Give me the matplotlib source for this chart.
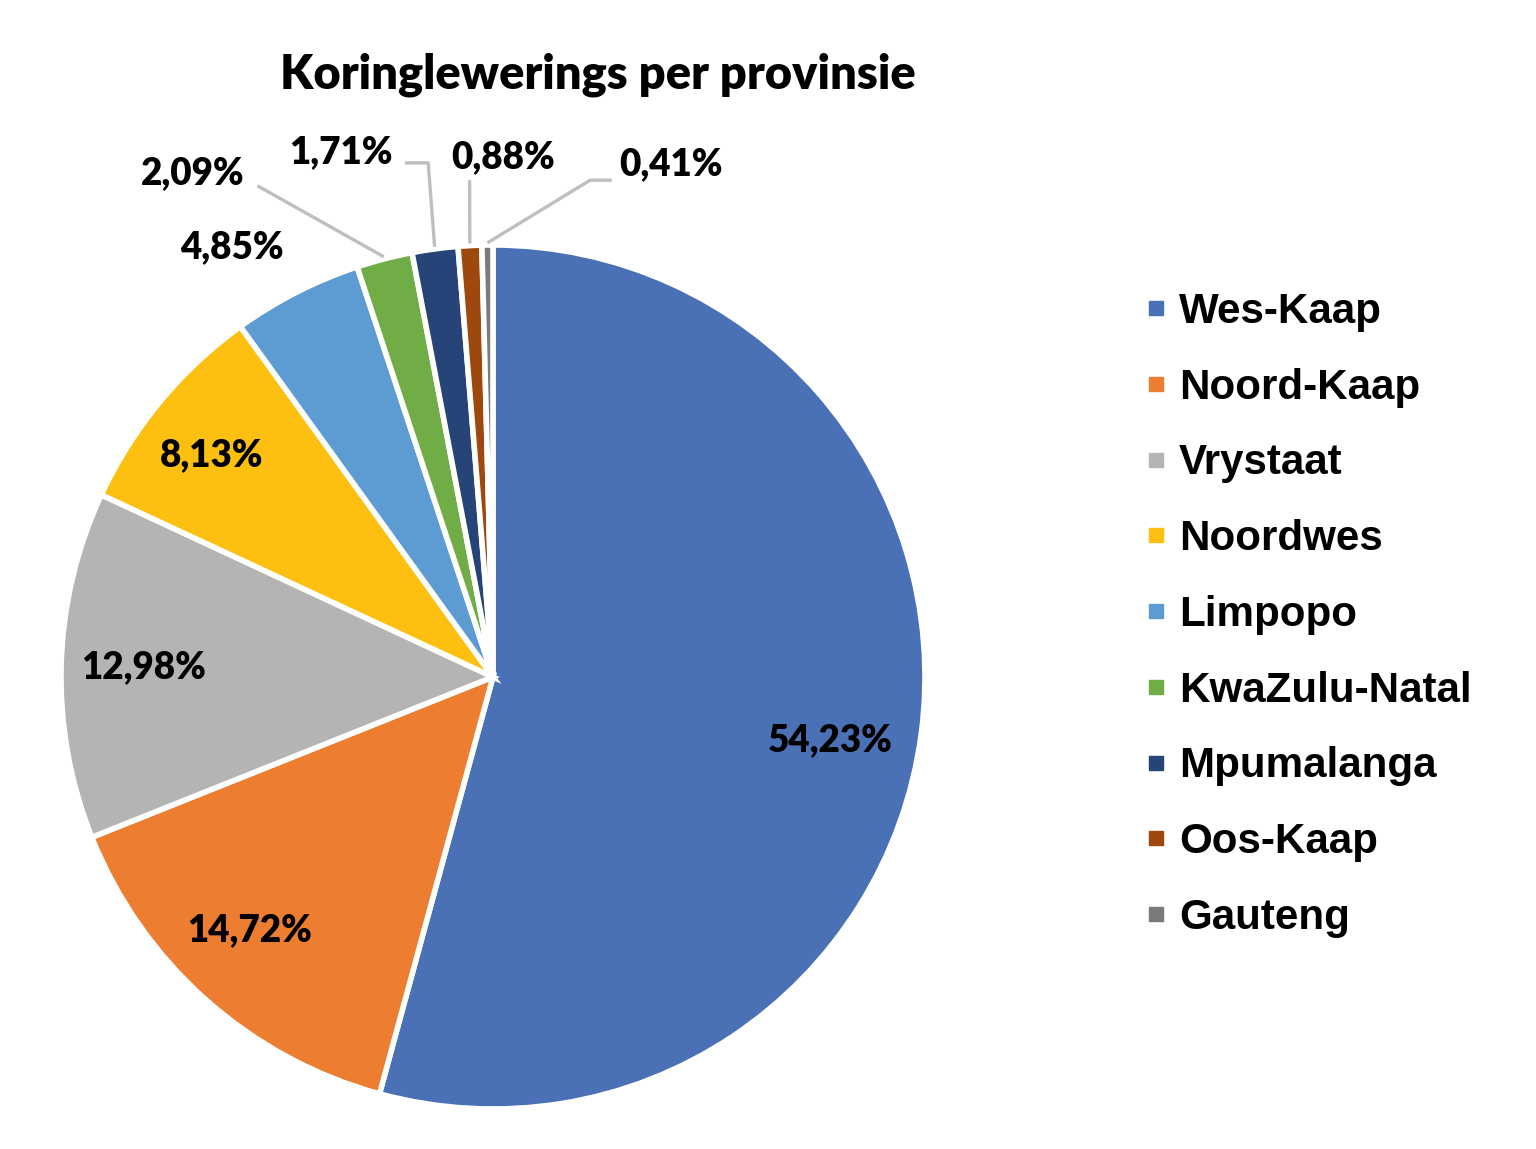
import numpy as np
import matplotlib
matplotlib.use("Agg")
import matplotlib.pyplot as plt

title = "Koringlewerings per provinsie"
provinces = ["Wes-Kaap", "Noord-Kaap", "Vrystaat", "Noordwes", "Limpopo",
             "KwaZulu-Natal", "Mpumalanga", "Oos-Kaap", "Gauteng"]
shares = [54.23, 14.72, 12.98, 8.13, 4.85, 2.09, 1.71, 0.88, 0.41]
colors = ["#4A71B6", "#EC7D31", "#B4B4B4", "#FDBF10", "#5D9BD3",
          "#70AD47", "#264478", "#9E480E", "#7A7A7A"]

def fmt(v):
    return f"{v:.2f}".replace(".", ",") + "%"

fig = plt.figure(figsize=(15.36, 11.49), dpi=100)
ax = fig.add_axes([0.0397, 0.0348, 0.5625, 0.752])
wedges, _ = ax.pie(shares, colors=colors, startangle=90, counterclock=False,
                   wedgeprops=dict(edgecolor="white", linewidth=4), radius=1.0)
ax.set_xlim(-1, 1)
ax.set_ylim(-1, 1)
ax.set_aspect("equal")
ax.axis("off")

lab_font = dict(family="Lato", fontweight="heavy", fontsize=26.5, color="black")

cum = np.cumsum([0] + shares)
mids = [90 - 3.6 * (cum[i] + shares[i] / 2) for i in range(len(shares))]

# (radius, angle offset in degrees) for labels inside the slices
inside_place = [(0.795, -3.0), (0.812, -2.1), (0.81, 0.0), (0.83, 1.3)]
for i, (r, da) in enumerate(inside_place):
    a = np.deg2rad(mids[i] + da)
    ax.text(r * np.cos(a), r * np.sin(a), fmt(shares[i]), ha="center", va="center", **lab_font)

ax.text(-0.604, 0.995, fmt(shares[4]), ha="center", va="center", **lab_font)

lc = "#BFBFBF"
outside = {
    5: ((-0.694, 1.167), [(-0.545, 1.137), (-0.545, 1.137)]),
    6: ((-0.352, 1.215), [(-0.150, 1.190), (-0.204, 1.190)]),
    7: ((0.023, 1.203), [(-0.054, 1.150), (-0.054, 1.150)]),
    8: ((0.412, 1.187), [(0.225, 1.150), (0.275, 1.150)]),
}
for i, ((tx, ty), pts) in outside.items():
    a = np.deg2rad(mids[i])
    xs = [np.cos(a) * 1.005] + [p[0] for p in pts]
    ys = [np.sin(a) * 1.005] + [p[1] for p in pts]
    ax.plot(xs, ys, color=lc, lw=2.4, clip_on=False, solid_capstyle="butt")
    ax.text(tx, ty, fmt(shares[i]), ha="center", va="center", **lab_font)

fig.text(0.389, 0.935, title, ha="center", va="center", family="Lato",
         fontweight="heavy", fontsize=33.8)

handles = [plt.Line2D([], [], marker="s", linestyle="none", markersize=10,
                      markerfacecolor=c, markeredgecolor=c) for c in colors]
leg = fig.legend(handles, provinces, loc="upper left", bbox_to_anchor=(0.7195, 0.779),
                 frameon=False, handletextpad=0.25, labelspacing=0.85,
                 prop=dict(family="Liberation Sans", weight="bold", size=30.3),
                 handlelength=0.6)

fig.savefig("out.png", dpi=100, facecolor="white")
